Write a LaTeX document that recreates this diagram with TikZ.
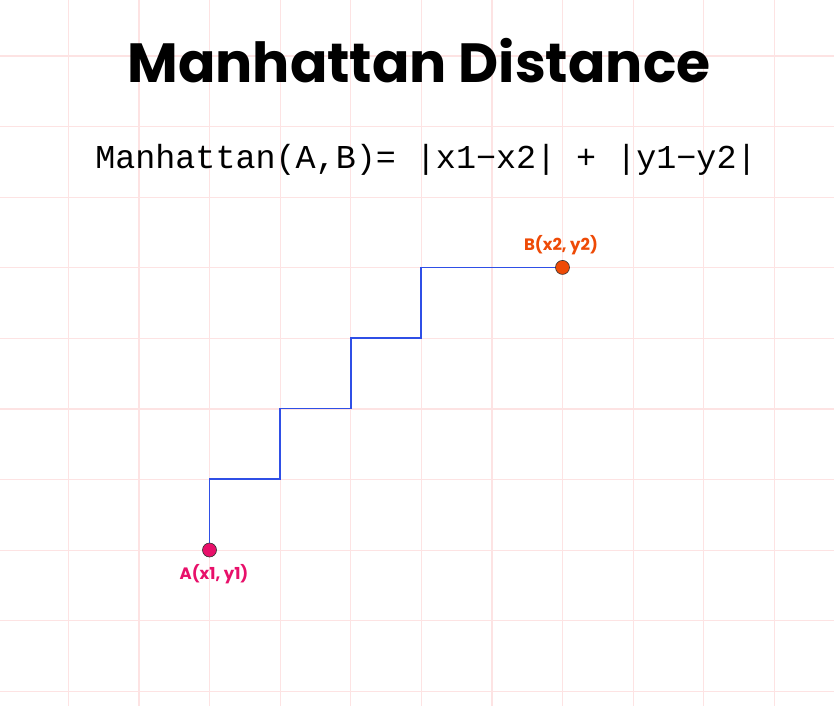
\documentclass[tikz,border=0pt]{standalone}
\usepackage{fontspec}
\newfontfamily\titlefont{Poppins}
\newfontfamily\eqfont{Liberation Mono}
\definecolor{gridpink}{HTML}{FDE3E3}
\definecolor{pathblue}{HTML}{2F4FE6}
\definecolor{pointA}{HTML}{E8106A}
\definecolor{pointB}{HTML}{EE4A06}
\tikzset{
  gridline/.style={draw=gridpink, line width=1.2pt},
  pt/.style={circle, draw=black!80, line width=0.6pt, minimum size=14pt, inner sep=0pt},
  ptlabel/.style={font=\titlefont\bfseries\fontsize{16.5}{19}\selectfont, inner sep=0pt},
  route/.style={draw=pathblue, line width=1.7pt}
}
\begin{document}
\begin{tikzpicture}[x=1pt,y=-1pt]
\useasboundingbox (0,0) rectangle (834,706);
\fill[white] (0,0) rectangle (834,706);
\foreach \i in {0,...,10} \draw[gridline] ({68.3+70.6*\i},0) -- ++(0,706);
\foreach \j in {0,...,9} \draw[gridline] (0,{56+70.6*\j}) -- ++(834,0);
\node[font=\titlefont\bfseries\fontsize{55.2}{60}\selectfont, inner sep=0pt] (title) at (419,61) {Manhattan Distance};
\node[font=\eqfont\fontsize{33.4}{36}\selectfont, inner sep=0pt] (eq) at (426,160) {Manhattan(A,B)= |x1−x2| + |y1−y2|};
\coordinate (pA) at (209.5,550);
\coordinate (c1) at (209.5,479.2);
\coordinate (c2) at (280.1,479.2);
\coordinate (c3) at (280.1,408.6);
\coordinate (c4) at (350.7,408.6);
\coordinate (c5) at (350.7,338);
\coordinate (c6) at (421.3,338);
\coordinate (c7) at (421.3,267.4);
\coordinate (pB) at (562.5,267.4);
\draw[route] (pA) -- (c1) -- (c2) -- (c3) -- (c4) -- (c5) -- (c6) -- (c7) -- (pB);
\node[pt, fill=pointA] (A) at (pA) {};
\node[pt, fill=pointB] (B) at (pB) {};
\node[ptlabel, text=pointA] (labA) at (214,574) {A(x1, y1)};
\node[ptlabel, text=pointB] (labB) at (561,245) {B(x2, y2)};
\end{tikzpicture}
\end{document}
